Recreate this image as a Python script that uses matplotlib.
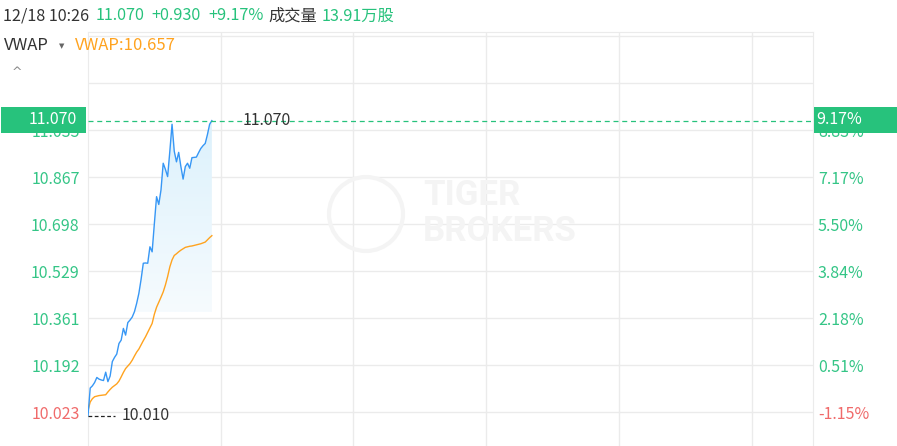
import numpy as np
import matplotlib
matplotlib.use("Agg")
import matplotlib.pyplot as plt
from matplotlib.patches import Rectangle, Polygon, Ellipse

plt.rcParams['font.family'] = ['Noto Sans CJK SC', 'DejaVu Sans']

W, H = 897, 446

# minutes since open, last price, vwap
minutes = list(range(57))
price = [10.010, 10.110, 10.118, 10.130, 10.148, 10.142, 10.139, 10.137, 10.167, 10.133,
         10.153, 10.205, 10.220, 10.232, 10.270, 10.282, 10.324, 10.300, 10.345, 10.354,
         10.365, 10.384, 10.414, 10.450, 10.500, 10.558, 10.559, 10.558, 10.617, 10.599,
         10.700, 10.797, 10.769, 10.821, 10.917, 10.895, 10.869, 10.960, 11.057, 10.960,
         10.922, 10.956, 10.905, 10.860, 10.905, 10.917, 10.899, 10.937, 10.938, 10.939,
         10.955, 10.970, 10.980, 10.988, 11.020, 11.057, 11.070]
vwap = [10.030, 10.060, 10.072, 10.079, 10.081, 10.083, 10.084, 10.085, 10.086, 10.096,
        10.105, 10.113, 10.119, 10.125, 10.135, 10.150, 10.166, 10.180, 10.189, 10.198,
        10.210, 10.225, 10.239, 10.250, 10.265, 10.280, 10.294, 10.310, 10.326, 10.342,
        10.375, 10.400, 10.418, 10.436, 10.455, 10.480, 10.510, 10.545, 10.570, 10.586,
        10.592, 10.599, 10.605, 10.610, 10.615, 10.617, 10.619, 10.620, 10.622, 10.624,
        10.626, 10.628, 10.631, 10.634, 10.642, 10.650, 10.657]

last_price = 11.070
low_price = 10.010
fill_floor = 10.383

grid_prices = [10.0230, 10.1917, 10.3605, 10.5292, 10.6979, 10.8667, 11.0354, 11.2041, 11.3728]
left_labels = ["10.023", "10.192", "10.361", "10.529", "10.698", "10.867", "11.035", "", ""]
right_labels = ["-1.15%", "0.51%", "2.18%", "3.84%", "5.50%", "7.17%", "8.83%", "", ""]
hour_marks = [60, 120, 180, 240, 300]

DARK = '#333333'
GREEN = '#27c27c'
TICK_GREEN = '#34c586'
RED = '#f06a6a'
ORANGE = '#ffa31f'
BLUE = '#3797f5'
GRID = '#ebebeb'
MARK = '#f4f4f4'
FS = 11.5


def fx(x):
    return x / W


def fy(y):
    return 1 - y / H


fig = plt.figure(figsize=(W / 100, H / 100), dpi=100)
ax = fig.add_axes([fx(88), 0, (813 - 88) / W, (H - 32.3) / H])
ax.set_xlim(0, 327.8)
ax.set_ylim(9.902, 11.387)

for p in grid_prices:
    ax.axhline(p, color=GRID, lw=1, zorder=0)
for m in hour_marks:
    ax.axvline(m, color=GRID, lw=1, zorder=0)

for side in ['top', 'left', 'right']:
    ax.spines[side].set_color(GRID)
ax.spines['bottom'].set_visible(False)

ax.set_xticks([])
ax.set_yticks(grid_prices, left_labels)
ax.tick_params(axis='y', length=0, pad=6, labelsize=FS)
for lbl in ax.get_yticklabels():
    lbl.set_color(RED if lbl.get_text() == "10.023" else TICK_GREEN)

ax2 = ax.twinx()
ax2.set_ylim(ax.get_ylim())
ax2.set_yticks(grid_prices, right_labels)
ax2.tick_params(axis='y', length=0, pad=3.5, labelsize=FS)
for lbl in ax2.get_yticklabels():
    lbl.set_color(RED if lbl.get_text().startswith('-') else TICK_GREEN)
for s in ax2.spines.values():
    s.set_visible(False)

# watermark
fig.patches.append(Ellipse((fx(366), fy(214)), 74 / W, 74 / H, transform=fig.transFigure,
                           fill=False, ec=MARK, lw=3, zorder=0.5))
fig.text(fx(423), fy(196), "TIGER", color=MARK, fontsize=25,
         fontweight='bold', family='Roboto', va='center', zorder=0.5)
fig.text(fx(423), fy(231), "BROKERS", color=MARK, fontsize=25,
         fontweight='bold', family='Roboto', va='center', zorder=0.5)

# gradient area under price line
px = np.array(minutes, dtype=float)
py = np.array(price)
top = np.maximum(py, fill_floor)
verts = list(zip(px, top)) + [(px[-1], fill_floor), (px[0], fill_floor)]
poly = Polygon(verts, closed=True, fc='none', ec='none')
ax.add_patch(poly)
grad = np.linspace(0, 1, 100).reshape(-1, 1)
cmap = matplotlib.colors.LinearSegmentedColormap.from_list('g', ['#f6fbfe', '#dcf1fc'])
img = ax.imshow(grad, extent=[px[0], px[-1], fill_floor, last_price],
                aspect='auto', origin='lower', cmap=cmap, zorder=1)
img.set_clip_path(poly)

ax.plot(minutes, vwap, color=ORANGE, lw=1, zorder=3)
ax.plot(minutes, price, color=BLUE, lw=1, zorder=4)

# last price dashed line and markers
ax.axhline(last_price, color=GREEN, lw=0.9, ls=(0, (4, 3)), zorder=5)
ax.text(70, last_price, f"{last_price:.3f}", color=DARK, fontsize=FS,
        va='center', ha='left', zorder=6)
ax.plot([0, 12], [low_price, low_price], color='#222222', lw=0.9, ls=(0, (3, 2)), zorder=5)
ax.text(15, low_price, f"{low_price:.3f}", color=DARK, fontsize=FS,
        va='center', ha='left', zorder=6)

fig.patches.append(Rectangle((fx(1), fy(132.7)), 85 / W, 25.4 / H,
                             transform=fig.transFigure, fc=GREEN, ec='none', zorder=5))
fig.text(fx(77), fy(120), f"{last_price:.3f}", color='white', fontsize=FS,
         ha='right', va='center', zorder=6)
fig.patches.append(Rectangle((fx(814), fy(132.7)), 83 / W, 25.4 / H,
                             transform=fig.transFigure, fc=GREEN, ec='none', zorder=5))
fig.text(fx(816), fy(120), "9.17%", color='white', fontsize=FS,
         ha='left', va='center', zorder=6)

# header
hy = fy(16)
fig.text(fx(3), hy, "12/18 10:26", color=DARK, fontsize=11.7, va='center')
fig.text(fx(96), hy, "11.070", color=GREEN, fontsize=11.7, va='center')
fig.text(fx(151), hy, "+0.930", color=GREEN, fontsize=11.7, va='center')
fig.text(fx(208), hy, "+9.17%", color=GREEN, fontsize=11.7, va='center')
fig.text(fx(268), hy, "成交量", color=DARK, fontsize=11.7, va='center')
fig.text(fx(322), hy, "13.91万股", color=GREEN, fontsize=11.7, va='center')

fig.text(fx(4), fy(46), "VWAP", color=DARK, fontsize=12, va='center')
fig.text(fx(62), fy(46), "▼", color='#666666', fontsize=5, va='center', ha='center',
         family='DejaVu Sans')
fig.text(fx(75), fy(46), f"VWAP:{vwap[-1]:.3f}", color=ORANGE, fontsize=12, va='center')
fig.text(fx(17), fy(72), "^", color='#888888', fontsize=9, va='center', ha='center',
         family='DejaVu Sans')

fig.savefig("out.png", dpi=100, facecolor='white')
